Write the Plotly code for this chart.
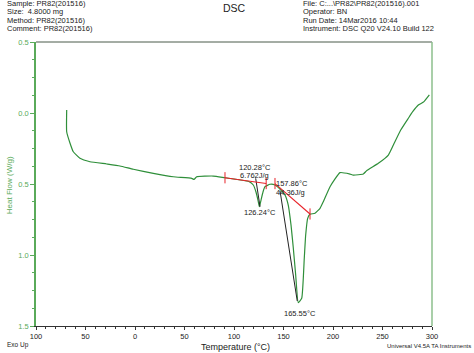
import plotly.graph_objects as go

# ---- data ----
temperature = [-69.0, -69.0, -65.7, -62.3, -55.6, -45.5, -28.6, -15.2, -1.7, 18.5, 38.7, 57.3, 59.6, 62.3,
               79.1, 90.9, 105.0, 115.0, 119.5, 122.2, 124.2, 125.6, 127.3, 129.3, 131.3, 136.4, 141.4,
               148.2, 151.5, 154.8, 157.6, 159.9, 162.3, 164.9, 168.4, 171.0, 172.4, 174.4, 176.8,
               181.8, 186.9, 190.2, 197.0, 207.1, 217.2, 220.5, 230.6, 234.0, 245.8, 255.9, 261.0, 268.4,
               276.1, 280.5, 286.2, 291.9, 297.3]
heat_flow = [0.021, -0.132, -0.211, -0.273, -0.319, -0.343, -0.359, -0.373, -0.396, -0.425, -0.449, -0.460,
             -0.468, -0.449, -0.444, -0.456, -0.470, -0.482, -0.507, -0.556, -0.613, -0.660, -0.613, -0.556,
             -0.519, -0.502, -0.507, -0.549, -0.577, -0.648, -0.789, -0.951, -1.141, -1.335, -1.305,
             -1.021, -0.859, -0.742, -0.713, -0.706, -0.671, -0.625, -0.519, -0.420, -0.430, -0.437, -0.430,
             -0.406, -0.354, -0.296, -0.225, -0.120, -0.037, 0.009, 0.056, 0.080, 0.127]

# integration baselines (red) and onset tangents (black)
baseline1_t = [90.9, 132.5]
baseline1_hf = [-0.456, -0.497]
baseline2_t = [141.4, 176.8]
baseline2_hf = [-0.497, -0.711]
tangent1_t = [121.9, 126.3]
tangent1_hf = [-0.460, -0.660]
tangent2_t = [146.5, 163.9]
tangent2_hf = [-0.549, -1.324]

x_tickvals = [-100, -50, 0, 50, 100, 150, 200, 250, 300]
x_ticktext = ["100", "50", "0", "50", "100", "150", "200", "250", "300"]
y_tickvals = [0.5, 0.0, -0.5, -1.0, -1.5]
y_ticktext = ["0.5", "0.0", "0.5", "1.0", "1.5"]

header_left = ["Sample: PR82(201516)", "Size:  4.8000 mg", "Method: PR82(201516)", "Comment: PR82(201516)"]
header_right = ["File: C:...\\PR82\\PR82(201516).001", "Operator: BN", "Run Date: 14Mar2016 10:44",
                "Instrument: DSC Q20 V24.10 Build 122"]

FONT = "Liberation Sans, Arial, sans-serif"
GREEN = "#2f8f3a"
AXGREEN = "#5aaa5a"

fig = go.Figure()
fig.add_trace(go.Scatter(x=temperature, y=heat_flow, mode="lines",
                         line=dict(color=GREEN, width=1.2, shape="spline", smoothing=0.4),
                         hoverinfo="skip", showlegend=False))
for tx, ty in [(tangent1_t, tangent1_hf), (tangent2_t, tangent2_hf)]:
    fig.add_trace(go.Scatter(x=tx, y=ty, mode="lines", line=dict(color="#222222", width=1),
                             showlegend=False, hoverinfo="skip"))
for bx, by in [(baseline1_t, baseline1_hf), (baseline2_t, baseline2_hf)]:
    fig.add_trace(go.Scatter(x=bx, y=by, mode="lines+markers",
                             line=dict(color="#e8232a", width=1.1),
                             marker=dict(symbol="line-ns", size=8, line=dict(color="#e8232a", width=1)),
                             showlegend=False, hoverinfo="skip"))

small = dict(family=FONT, size=7.5, color="#222222")
labels = [
    ("120.28°C", 121.2, -0.387),
    ("6.762J/g", 120.2, -0.437),
    ("126.24°C", 126.3, -0.704),
    ("157.86°C", 158.6, -0.495),
    ("44.36J/g", 157.3, -0.561),
    ("165.55°C", 166.2, -1.415),
]
for txt, lx, ly in labels:
    fig.add_annotation(x=lx, y=ly, text=txt, showarrow=False, font=small, xanchor="center", yanchor="middle")

line_ys = [1.137, 1.107, 1.077, 1.047]
for txt, py in zip(header_left, line_ys):
    fig.add_annotation(xref="paper", yref="paper", x=-0.0783, y=py, text=txt, showarrow=False,
                       font=small, xanchor="left", yanchor="middle")
for txt, py in zip(header_right, line_ys):
    fig.add_annotation(xref="paper", yref="paper", x=0.669, y=py, text=txt, showarrow=False,
                       font=small, xanchor="left", yanchor="middle")

fig.add_annotation(xref="paper", yref="paper", x=0.5, y=1.12, text="DSC", showarrow=False,
                   font=dict(family=FONT, size=10.5, color="#222222"), xanchor="center", yanchor="middle")
fig.add_annotation(xref="paper", yref="paper", x=-0.0783, y=-0.067, text="Exo Up", showarrow=False,
                   font=dict(family=FONT, size=6.5, color="#222222"), xanchor="left", yanchor="middle")
fig.add_annotation(xref="paper", yref="paper", x=0.505, y=-0.074, text="Temperature (°C)", showarrow=False,
                   font=dict(family=FONT, size=9, color="#222222"), xanchor="center", yanchor="middle")
fig.add_annotation(xref="paper", yref="paper", x=1.1035, y=-0.07, text="Universal V4.5A TA Instruments",
                   showarrow=False, font=dict(family=FONT, size=6, color="#222222"),
                   xanchor="right", yanchor="middle")
fig.add_annotation(xref="paper", yref="paper", x=-0.068, y=0.496, text="Heat Flow (W/g)", showarrow=False,
                   textangle=-90, font=dict(family=FONT, size=8, color=AXGREEN),
                   xanchor="center", yanchor="middle")

# frame: top (dark) and right (light green)
fig.add_shape(type="line", xref="paper", yref="paper", x0=0, x1=1, y0=1, y1=1,
              line=dict(color="#4a5a4a", width=1))
fig.add_shape(type="line", xref="paper", yref="paper", x0=1, x1=1, y0=0, y1=1,
              line=dict(color="#8cbf8c", width=1.5))

fig.update_xaxes(range=[-100, 300], tickvals=x_tickvals, ticktext=x_ticktext, showgrid=False,
                 zeroline=False, showline=True, linecolor="#333333", linewidth=1,
                 ticks="outside", ticklen=3, tickcolor="#333333",
                 tickfont=dict(family=FONT, size=7.5, color="#222222"),
                 minor=dict(dtick=10, ticks="outside", ticklen=2, tickcolor="#333333"))
fig.update_yaxes(range=[-1.5, 0.5], tickvals=y_tickvals, ticktext=y_ticktext, showgrid=False,
                 zeroline=False, showline=True, linecolor=AXGREEN, linewidth=1.5,
                 ticks="outside", ticklen=4, tickcolor=AXGREEN,
                 tickfont=dict(family=FONT, size=7.5, color=AXGREEN),
                 minor=dict(dtick=0.125, ticks="outside", ticklen=2, tickcolor=AXGREEN))

fig.update_layout(width=474, height=353, margin=dict(l=36, r=42, t=42, b=27),
                  paper_bgcolor="white", plot_bgcolor="white", showlegend=False,
                  font=dict(family=FONT))
fig.write_html("out.html")
